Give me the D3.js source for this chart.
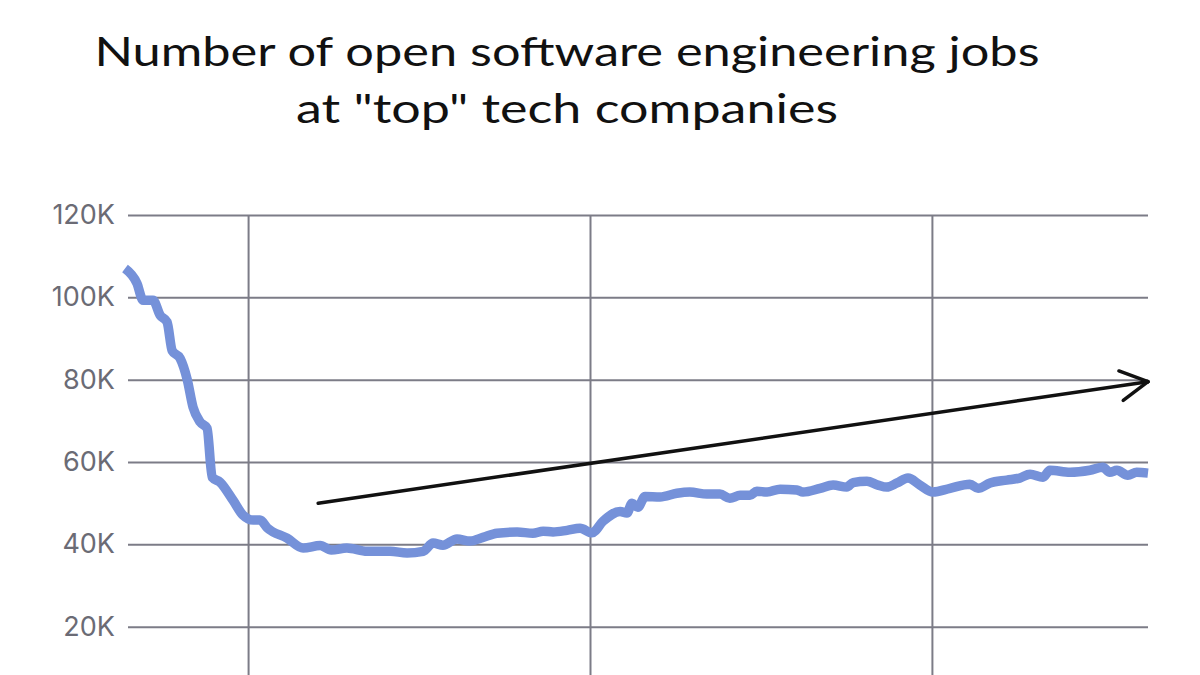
<!DOCTYPE html>
<html>
<head>
<meta charset="utf-8">
<script src="https://cdn.jsdelivr.net/npm/d3@7"></script>
<style>
  html, body { margin: 0; padding: 0; background: #ffffff; }
  svg { display: block; }
</style>
</head>
<body>
<svg id="chart" width="1200" height="675"></svg>
<script>
// ---- Data (x = decimal year, value = open jobs in thousands) ----
const titleLines = ["Number of open software engineering jobs", "at \"top\" tech companies"];

const years = [
  2022.640, 2022.675, 2022.693, 2022.722, 2022.743, 2022.763, 2022.778, 2022.801, 2022.822, 2022.839,
  2022.860, 2022.880, 2022.895, 2022.918, 2022.956, 2022.985, 2023.015, 2023.035, 2023.056, 2023.114,
  2023.161, 2023.211, 2023.243, 2023.289, 2023.348, 2023.415, 2023.465, 2023.512, 2023.541, 2023.570,
  2023.611, 2023.649, 2023.687, 2023.728, 2023.787, 2023.833, 2023.863, 2023.892, 2023.933, 2023.971,
  2024.006, 2024.038, 2024.088, 2024.108, 2024.123, 2024.140, 2024.161, 2024.205, 2024.254, 2024.292,
  2024.342, 2024.380, 2024.409, 2024.439, 2024.468, 2024.488, 2024.518, 2024.556, 2024.605, 2024.623,
  2024.673, 2024.711, 2024.751, 2024.769, 2024.810, 2024.842, 2024.868, 2024.898, 2024.930, 2024.965,
  2025.003, 2025.053, 2025.111, 2025.135, 2025.170, 2025.219, 2025.257, 2025.287, 2025.325, 2025.345,
  2025.404, 2025.462, 2025.500, 2025.520, 2025.541, 2025.573, 2025.599, 2025.632
];

const jobsK = [
  107.0, 103.4, 99.3, 99.3, 95.6, 94.0, 87.0, 85.2, 80.0, 73.3,
  69.7, 68.2, 56.3, 55.1, 50.7, 47.1, 45.9, 45.9, 44.0, 41.5,
  39.1, 39.7, 38.6, 39.1, 38.3, 38.3, 37.9, 38.3, 40.3, 39.8,
  41.3, 40.8, 41.7, 42.7, 43.0, 42.7, 43.2, 43.0, 43.4, 43.9,
  42.8, 45.6, 48.0, 47.6, 50.0, 49.0, 51.6, 51.5, 52.4, 52.7,
  52.2, 52.2, 51.2, 51.9, 51.9, 52.9, 52.7, 53.4, 53.2, 52.7,
  53.6, 54.4, 53.9, 55.0, 55.3, 54.4, 53.9, 54.9, 56.1, 54.4,
  52.7, 53.6, 54.6, 53.6, 54.9, 55.6, 56.1, 57.0, 56.3, 58.0,
  57.5, 58.0, 58.7, 57.5, 58.0, 56.8, 57.5, 57.3
];

const yTicks = [20, 40, 60, 80, 100, 120];
const yTickLabels = ["20K", "40K", "60K", "80K", "100K", "120K"];
const xGridYears = [2023, 2024, 2025];

// Trend arrow annotation (start/end in data units)
const arrowYears = [2023.205, 2025.632];
const arrowValuesK = [50.0, 79.5];

// ---- Chart ----
const svg = d3.select("#chart");

const x = d3.scaleLinear().domain([2022.640, 2025.632]).range([125, 1148]);
const y = d3.scaleLinear().domain([0, 120]).range([709, 215]);

const gridColor = "#7c7c87";

// Horizontal grid lines (via axis)
const yAxis = d3.axisLeft(y)
  .tickValues(yTicks)
  .tickFormat((d, i) => yTickLabels[i])
  .tickSize(-(1148 - 128))
  .tickPadding(13);

const gy = svg.append("g")
  .attr("transform", "translate(128,0)")
  .call(yAxis);
gy.select(".domain").remove();
gy.selectAll(".tick line")
  .attr("stroke", gridColor)
  .attr("stroke-width", 2);
gy.selectAll(".tick text")
  .attr("fill", "#6b6b75")
  .style("font-family", "Inter, 'Liberation Sans', sans-serif")
  .style("font-size", "27px");

// Vertical grid lines (via axis)
const xAxis = d3.axisBottom(x)
  .tickValues(xGridYears)
  .tickFormat("")
  .tickSize(675 - 215);
const gx = svg.append("g")
  .attr("transform", "translate(0,215)")
  .call(xAxis);
gx.select(".domain").remove();
gx.selectAll(".tick line")
  .attr("stroke", gridColor)
  .attr("stroke-width", 2);

// Data line
const data = years.map((yr, i) => ({ yr, v: jobsK[i] }));
const line = d3.line()
  .x(d => x(d.yr))
  .y(d => y(d.v))
  .curve(d3.curveMonotoneX);

svg.append("path")
  .datum(data)
  .attr("d", line)
  .attr("fill", "none")
  .attr("stroke", "#7591d9")
  .attr("stroke-width", 9.5)
  .attr("stroke-linejoin", "round")
  .attr("stroke-linecap", "butt");

// Arrow annotation
const ax0 = x(arrowYears[0]), ay0 = y(arrowValuesK[0]);
const ax1 = x(arrowYears[1]), ay1 = y(arrowValuesK[1]);
svg.append("line")
  .attr("x1", ax0).attr("y1", ay0)
  .attr("x2", ax1).attr("y2", ay1)
  .attr("stroke", "#111")
  .attr("stroke-width", 3.5)
  .attr("stroke-linecap", "round");

const ang = Math.atan2(ay1 - ay0, ax1 - ax0);
const headLen = 31, headSpread = 0.5;
[ -headSpread, headSpread ].forEach(s => {
  svg.append("line")
    .attr("x1", ax1).attr("y1", ay1)
    .attr("x2", ax1 - headLen * Math.cos(ang + s))
    .attr("y2", ay1 - headLen * Math.sin(ang + s))
    .attr("stroke", "#111")
    .attr("stroke-width", 3.5)
    .attr("stroke-linecap", "round");
});

// Title
const title = svg.append("g");
title.append("text")
  .attr("x", 567).attr("y", 66)
  .attr("text-anchor", "middle")
  .attr("textLength", 945)
  .attr("lengthAdjust", "spacingAndGlyphs")
  .style("font-family", "Lato, 'Open Sans', sans-serif")
  .style("font-weight", 400)
  .style("font-size", "40px")
  .attr("fill", "#111")
  .text(titleLines[0]);
title.append("text")
  .attr("x", 567).attr("y", 123)
  .attr("text-anchor", "middle")
  .attr("textLength", 542)
  .attr("lengthAdjust", "spacingAndGlyphs")
  .style("font-family", "Lato, 'Open Sans', sans-serif")
  .style("font-weight", 400)
  .style("font-size", "40px")
  .attr("fill", "#111")
  .text(titleLines[1]);
</script>
</body>
</html>
